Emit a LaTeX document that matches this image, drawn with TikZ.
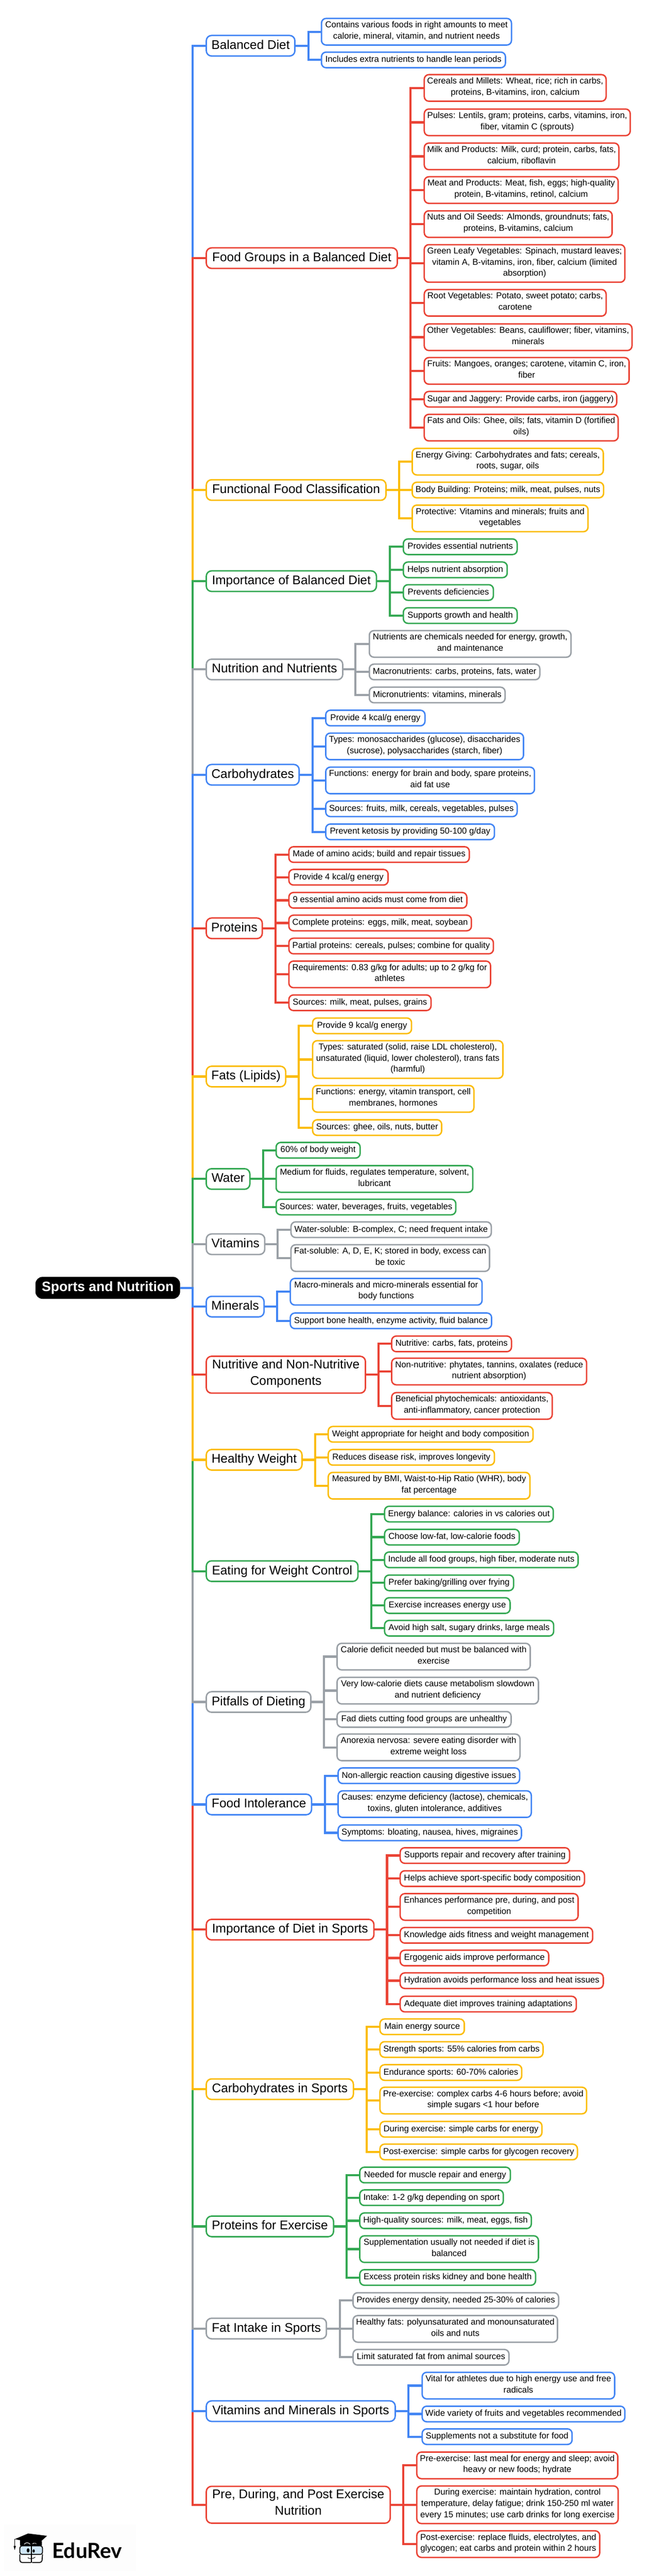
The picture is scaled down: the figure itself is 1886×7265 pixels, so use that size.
\documentclass[tikz,border=0pt]{standalone}
\usepackage{fontspec}
\setmainfont{Liberation Sans}
\newfontfamily\logofont{Lato}
\usetikzlibrary{positioning}

\definecolor{mapblue}{HTML}{4285F4}
\definecolor{mapred}{HTML}{EA4335}
\definecolor{mapyellow}{HTML}{FBBC04}
\definecolor{mapgreen}{HTML}{34A853}
\definecolor{mapgray}{HTML}{9AA0A6}
\definecolor{logoface}{HTML}{CFE6F6}
\definecolor{logoback}{HTML}{FDFDFD}

\tikzset{
  rootbox/.style={fill=black,text=white,rounded corners=20pt,anchor=west,inner sep=0pt,outer sep=0pt,
    minimum width=408,minimum height=62,font=\fontsize{38.5}{47}\selectfont\bfseries,
    execute at begin node=\strut,execute at end node=\strut},
  branch/.style={draw=#1,fill=white,line width=4pt,rounded corners=15pt,anchor=west,inner sep=0pt,outer sep=0pt,
    align=center,font=\fontsize{35.5}{47}\selectfont,
    execute at begin node=\strut,execute at end node=\strut},
  leaf/.style={draw=#1,fill=white,line width=4pt,rounded corners=13pt,anchor=west,inner sep=0pt,outer sep=0pt,
    align=center,font=\fontsize{24.3}{31.5}\selectfont,
    execute at begin node=\strut,execute at end node=\strut},
  conn/.style={draw=#1,line width=6pt}
}

\begin{document}
\begin{tikzpicture}[x=1pt,y=-1pt]
  \useasboundingbox (0,0) rectangle (1886,7265);

  % the root
  \node[rootbox] (root) at (100,3632) {Sports and Nutrition};

  % the branches, all start at the same x
  \foreach \nm/\y/\w/\h/\col/\txt in {
    bal/129/250/58/mapblue/{Balanced Diet},
    food/728/539/58/mapred/{Food Groups in a Balanced Diet},
    func/1382/507/58/mapyellow/{Functional Food Classification},
    imp/1639/480/58/mapgreen/{Importance of Balanced Diet},
    nut/1888/385/58/mapgray/{Nutrition and Nutrients},
    carb/2185/262/58/mapblue/{Carbohydrates},
    prot/2618/158/58/mapred/{Proteins},
    fats/3036/224/58/mapyellow/{Fats (Lipids)},
    water/3325/123/58/mapgreen/{Water},
    vit/3509/165/58/mapgray/{Vitamins},
    mins/3685/163/58/mapblue/{Minerals},
    comp/3877/449/104/mapred/{Nutritive and Non-Nutritive\\Components},
    hw/4117/270/58/mapyellow/{Healthy Weight},
    eat/4431/428/58/mapgreen/{Eating for Weight Control},
    pit/4800/295/58/mapgray/{Pitfalls of Dieting},
    intol/5089/297/58/mapblue/{Food Intolerance},
    ids/5442/473/58/mapred/{Importance of Diet in Sports},
    csp/5892/415/58/mapyellow/{Carbohydrates in Sports},
    pex/6279/359/58/mapgreen/{Proteins for Exercise},
    fat/6567/339/58/mapgray/{Fat Intake in Sports},
    vmin/6800/533/58/mapblue/{Vitamins and Minerals in Sports},
    pre/7064/519/104/mapred/{Pre, During, and Post Exercise\\Nutrition}}
    \node[branch=\col,minimum width=\w,minimum height=\h] (\nm) at (582,\y) {\txt};

  % the spine, outer branches first so that the nearer ones lie on top
  \foreach \nm/\col in {bal/mapblue,food/mapred,func/mapyellow,imp/mapgreen,nut/mapgray,
    carb/mapblue,prot/mapred,fats/mapyellow,water/mapgreen,vit/mapgray,
    pre/mapred,vmin/mapblue,fat/mapgray,pex/mapgreen,csp/mapyellow,ids/mapred,
    intol/mapblue,pit/mapgray,eat/mapgreen,hw/mapyellow,comp/mapred,mins/mapblue}
    \draw[conn=\col] (root.east) -- ++(35,0) |- (\nm.west);

  % Balanced Diet
  \foreach \nm/\y/\w/\h/\txt in {
    bal1/89.5/536/75/{Contains various foods in right amounts to meet\\calorie, mineral, vitamin, and nutrient needs},
    bal2/169/519/44/{Includes extra nutrients to handle lean periods}} {
    \node[leaf=mapblue,minimum width=\w,minimum height=\h] (\nm) at (907,\y) {\txt};
    \draw[conn=mapblue] (bal.east) -- ++(38,0) |- (\nm.west);
  }

  % Food Groups in a Balanced Diet
  \foreach \nm/\y/\w/\h/\txt in {
    food1/248/513/75/{Cereals and Millets: Wheat, rice; rich in carbs,\\proteins, B-vitamins, iron, calcium},
    food2/345/581/75/{Pulses: Lentils, gram; proteins, carbs, vitamins, iron,\\fiber, vitamin C (sprouts)},
    food3/441/549/75/{Milk and Products: Milk, curd; protein, carbs, fats,\\calcium, riboflavin},
    food4/536/547/75/{Meat and Products: Meat, fish, eggs; high-quality\\protein, B-vitamins, retinol, calcium},
    food5/632/530/75/{Nuts and Oil Seeds: Almonds, groundnuts; fats,\\proteins, B-vitamins, calcium},
    food6/743/566/106/{Green Leafy Vegetables: Spinach, mustard leaves;\\vitamin A, B-vitamins, iron, fiber, calcium (limited\\absorption)},
    food7/854/513/75/{Root Vegetables: Potato, sweet potato; carbs,\\carotene},
    food8/951/586/75/{Other Vegetables: Beans, cauliflower; fiber, vitamins,\\minerals},
    food9/1046/578/75/{Fruits: Mangoes, oranges; carotene, vitamin C, iron,\\fiber},
    food10/1126/543/44/{Sugar and Jaggery: Provide carbs, iron (jaggery)},
    food11/1206/547/75/{Fats and Oils: Ghee, oils; fats, vitamin D (fortified\\oils)}} {
    \node[leaf=mapred,minimum width=\w,minimum height=\h] (\nm) at (1197,\y) {\txt};
    \draw[conn=mapred] (food.east) -- ++(37,0) |- (\nm.west);
  }

  % Functional Food Classification
  \foreach \nm/\y/\w/\h/\txt in {
    func1/1302/539/75/{Energy Giving: Carbohydrates and fats; cereals,\\roots, sugar, oils},
    func2/1382/540/44/{Body Building: Proteins; milk, meat, pulses, nuts},
    func3/1462/496/75/{Protective: Vitamins and minerals; fruits and\\vegetables}} {
    \node[leaf=mapyellow,minimum width=\w,minimum height=\h] (\nm) at (1163,\y) {\txt};
    \draw[conn=mapyellow] (func.east) -- ++(37,0) |- (\nm.west);
  }

  % Importance of Balanced Diet
  \foreach \nm/\y/\w/\h/\txt in {
    imp1/1542/321/44/{Provides essential nutrients},
    imp2/1607/293/44/{Helps nutrient absorption},
    imp3/1671/254/44/{Prevents deficiencies},
    imp4/1736/321/44/{Supports growth and health}} {
    \node[leaf=mapgreen,minimum width=\w,minimum height=\h] (\nm) at (1138,\y) {\txt};
    \draw[conn=mapgreen] (imp.east) -- ++(38,0) |- (\nm.west);
  }

  % Nutrition and Nutrients
  \foreach \nm/\y/\w/\h/\txt in {
    nut1/1816/569/75/{Nutrients are chemicals needed for energy, growth,\\and maintenance},
    nut2/1895/481/44/{Macronutrients: carbs, proteins, fats, water},
    nut3/1960/383/44/{Micronutrients: vitamins, minerals}} {
    \node[leaf=mapgray,minimum width=\w,minimum height=\h] (\nm) at (1042,\y) {\txt};
    \draw[conn=mapgray] (nut.east) -- ++(36,0) |- (\nm.west);
  }

  % Carbohydrates
  \foreach \nm/\y/\w/\h/\txt in {
    carb1/2025/280/44/{Provide 4 kcal/g energy},
    carb2/2105/558/75/{Types: monosaccharides (glucose), disaccharides\\(sucrose), polysaccharides (starch, fiber)},
    carb3/2201/589/75/{Functions: energy for brain and body, spare proteins,\\aid fat use},
    carb4/2281/540/44/{Sources: fruits, milk, cereals, vegetables, pulses},
    carb5/2346/476/44/{Prevent ketosis by providing 50-100 g/day}} {
    \node[leaf=mapblue,minimum width=\w,minimum height=\h] (\nm) at (919,\y) {\txt};
    \draw[conn=mapblue] (carb.east) -- ++(38,0) |- (\nm.west);
  }

  % Proteins
  \foreach \nm/\y/\w/\h/\txt in {
    prot1/2410/509/44/{Made of amino acids; build and repair tissues},
    prot2/2474/280/44/{Provide 4 kcal/g energy},
    prot3/2539/502/44/{9 essential amino acids must come from diet},
    prot4/2603/515/44/{Complete proteins: eggs, milk, meat, soybean},
    prot5/2668/577/44/{Partial proteins: cereals, pulses; combine for quality},
    prot6/2748/569/75/{Requirements: 0.83 g/kg for adults; up to 2 g/kg for\\athletes},
    prot7/2828/401/44/{Sources: milk, meat, pulses, grains}} {
    \node[leaf=mapred,minimum width=\w,minimum height=\h] (\nm) at (815,\y) {\txt};
    \draw[conn=mapred] (prot.east) -- ++(37,0) |- (\nm.west);
  }

  % Fats (Lipids)
  \foreach \nm/\y/\w/\h/\txt in {
    fats1/2893/279/44/{Provide 9 kcal/g energy},
    fats2/2988/537/106/{Types: saturated (solid, raise LDL cholesterol),\\unsaturated (liquid, lower cholesterol), trans fats\\(harmful)},
    fats3/3099/455/75/{Functions: energy, vitamin transport, cell\\membranes, hormones},
    fats4/3180/364/44/{Sources: ghee, oils, nuts, butter}} {
    \node[leaf=mapyellow,minimum width=\w,minimum height=\h] (\nm) at (882,\y) {\txt};
    \draw[conn=mapyellow] (fats.east) -- ++(37,0) |- (\nm.west);
  }

  % Water
  \foreach \nm/\y/\w/\h/\txt in {
    water1/3244/237/44/{60\% of body weight},
    water2/3325/555/75/{Medium for fluids, regulates temperature, solvent,\\lubricant},
    water3/3404/507/44/{Sources: water, beverages, fruits, vegetables}} {
    \node[leaf=mapgreen,minimum width=\w,minimum height=\h] (\nm) at (779,\y) {\txt};
    \draw[conn=mapgreen] (water.east) -- ++(37,0) |- (\nm.west);
  }

  % Vitamins
  \foreach \nm/\y/\w/\h/\txt in {
    vit1/3468/565/44/{Water-soluble: B-complex, C; need frequent intake},
    vit2/3548/560/75/{Fat-soluble: A, D, E, K; stored in body, excess can\\be toxic}} {
    \node[leaf=mapgray,minimum width=\w,minimum height=\h] (\nm) at (821,\y) {\txt};
    \draw[conn=mapgray] (vit.east) -- ++(36,0) |- (\nm.west);
  }

  % Minerals
  \foreach \nm/\y/\w/\h/\txt in {
    mins1/3643/541/75/{Macro-minerals and micro-minerals essential for\\body functions},
    mins2/3725/568/44/{Support bone health, enzyme activity, fluid balance}} {
    \node[leaf=mapblue,minimum width=\w,minimum height=\h] (\nm) at (819,\y) {\txt};
    \draw[conn=mapblue] (mins.east) -- ++(37,0) |- (\nm.west);
  }

  % Nutritive and Non-Nutritive Components
  \foreach \nm/\y/\w/\h/\txt in {
    comp1/3790/338/44/{Nutritive: carbs, fats, proteins},
    comp2/3868/550/75/{Non-nutritive: phytates, tannins, oxalates (reduce\\nutrient absorption)},
    comp3/3965/453/75/{Beneficial phytochemicals: antioxidants,\\anti-inflammatory, cancer protection}} {
    \node[leaf=mapred,minimum width=\w,minimum height=\h] (\nm) at (1105,\y) {\txt};
    \draw[conn=mapred] (comp.east) -- ++(37,0) |- (\nm.west);
  }

  % Healthy Weight
  \foreach \nm/\y/\w/\h/\txt in {
    hw1/4045/578/44/{Weight appropriate for height and body composition},
    hw2/4110/469/44/{Reduces disease risk, improves longevity},
    hw3/4190/569/75/{Measured by BMI, Waist-to-Hip Ratio (WHR), body\\fat percentage}} {
    \node[leaf=mapyellow,minimum width=\w,minimum height=\h] (\nm) at (926,\y) {\txt};
    \draw[conn=mapyellow] (hw.east) -- ++(37,0) |- (\nm.west);
  }

  % Eating for Weight Control
  \foreach \nm/\y/\w/\h/\txt in {
    eat1/4270/476/44/{Energy balance: calories in vs calories out},
    eat2/4335/380/44/{Choose low-fat, low-calorie foods},
    eat3/4399/546/44/{Include all food groups, high fiber, moderate nuts},
    eat4/4464/364/44/{Prefer baking/grilling over frying},
    eat5/4528/354/44/{Exercise increases energy use},
    eat6/4592/477/44/{Avoid high salt, sugary drinks, large meals}} {
    \node[leaf=mapgreen,minimum width=\w,minimum height=\h] (\nm) at (1085,\y) {\txt};
    \draw[conn=mapgreen] (eat.east) -- ++(37,0) |- (\nm.west);
  }

  % Pitfalls of Dieting
  \foreach \nm/\y/\w/\h/\txt in {
    pit1/4672/545/75/{Calorie deficit needed but must be balanced with\\exercise},
    pit2/4768/568/75/{Very low-calorie diets cause metabolism slowdown\\and nutrient deficiency},
    pit3/4849/491/44/{Fad diets cutting food groups are unhealthy},
    pit4/4928/516/75/{Anorexia nervosa: severe eating disorder with\\extreme weight loss}} {
    \node[leaf=mapgray,minimum width=\w,minimum height=\h] (\nm) at (951,\y) {\txt};
    \draw[conn=mapgray] (pit.east) -- ++(37,0) |- (\nm.west);
  }

  % Food Intolerance
  \foreach \nm/\y/\w/\h/\txt in {
    intol1/5008/512/44/{Non-allergic reaction causing digestive issues},
    intol2/5088/545/75/{Causes: enzyme deficiency (lactose), chemicals,\\toxins, gluten intolerance, additives},
    intol3/5169/517/44/{Symptoms: bloating, nausea, hives, migraines}} {
    \node[leaf=mapblue,minimum width=\w,minimum height=\h] (\nm) at (954,\y) {\txt};
    \draw[conn=mapblue] (intol.east) -- ++(38,0) |- (\nm.west);
  }

  % Importance of Diet in Sports
  \foreach \nm/\y/\w/\h/\txt in {
    ids1/5233/478/44/{Supports repair and recovery after training},
    ids2/5298/520/44/{Helps achieve sport-specific body composition},
    ids3/5378/502/75/{Enhances performance pre, during, and post\\competition},
    ids4/5458/543/44/{Knowledge aids fitness and weight management},
    ids5/5522/419/44/{Ergogenic aids improve performance},
    ids6/5586/573/44/{Hydration avoids performance loss and heat issues},
    ids7/5652/497/44/{Adequate diet improves training adaptations}} {
    \node[leaf=mapred,minimum width=\w,minimum height=\h] (\nm) at (1129,\y) {\txt};
    \draw[conn=mapred] (ids.east) -- ++(37,0) |- (\nm.west);
  }

  % Carbohydrates in Sports
  \foreach \nm/\y/\w/\h/\txt in {
    csp1/5716/238/44/{Main energy source},
    csp2/5780/460/44/{Strength sports: 55\% calories from carbs},
    csp3/5845/400/44/{Endurance sports: 60-70\% calories},
    csp4/5924/583/75/{Pre-exercise: complex carbs 4-6 hours before; avoid\\simple sugars <1 hour before},
    csp5/6005/457/44/{During exercise: simple carbs for energy},
    csp6/6069/557/44/{Post-exercise: simple carbs for glycogen recovery}} {
    \node[leaf=mapyellow,minimum width=\w,minimum height=\h] (\nm) at (1072,\y) {\txt};
    \draw[conn=mapyellow] (csp.east) -- ++(37,0) |- (\nm.west);
  }

  % Proteins for Exercise
  \foreach \nm/\y/\w/\h/\txt in {
    pex1/6134/425/44/{Needed for muscle repair and energy},
    pex2/6198/405/44/{Intake: 1-2 g/kg depending on sport},
    pex3/6263/484/44/{High-quality sources: milk, meat, eggs, fish},
    pex4/6343/504/75/{Supplementation usually not needed if diet is\\balanced},
    pex5/6423/496/44/{Excess protein risks kidney and bone health}} {
    \node[leaf=mapgreen,minimum width=\w,minimum height=\h] (\nm) at (1015,\y) {\txt};
    \draw[conn=mapgreen] (pex.east) -- ++(37,0) |- (\nm.west);
  }

  % Fat Intake in Sports
  \foreach \nm/\y/\w/\h/\txt in {
    fat1/6488/580/44/{Provides energy density, needed 25-30\% of calories},
    fat2/6568/577/75/{Healthy fats: polyunsaturated and monounsaturated\\oils and nuts},
    fat3/6648/440/44/{Limit saturated fat from animal sources}} {
    \node[leaf=mapgray,minimum width=\w,minimum height=\h] (\nm) at (996,\y) {\txt};
    \draw[conn=mapgray] (fat.east) -- ++(38,0) |- (\nm.west);
  }

  % Vitamins and Minerals in Sports
  \foreach \nm/\y/\w/\h/\txt in {
    vmin1/6728/543/75/{Vital for athletes due to high energy use and free\\radicals},
    vmin2/6808/572/44/{Wide variety of fruits and vegetables recommended},
    vmin3/6872/423/44/{Supplements not a substitute for food}} {
    \node[leaf=mapblue,minimum width=\w,minimum height=\h] (\nm) at (1191,\y) {\txt};
    \draw[conn=mapblue] (vmin.east) -- ++(37,0) |- (\nm.west);
  }

  % Pre, During, and Post Exercise Nutrition
  \foreach \nm/\y/\w/\h/\txt in {
    pre1/6953/567/75/{Pre-exercise: last meal for energy and sleep; avoid\\heavy or new foods; hydrate},
    pre2/7064/568/106/{During exercise: maintain hydration, control\\temperature, delay fatigue; drink 150-250 ml water\\every 15 minutes; use carb drinks for long exercise},
    pre3/7175/516/75/{Post-exercise: replace fluids, electrolytes, and\\glycogen; eat carbs and protein within 2 hours}} {
    \node[leaf=mapred,minimum width=\w,minimum height=\h] (\nm) at (1176,\y) {\txt};
    \draw[conn=mapred] (pre.east) -- ++(37,0) |- (\nm.west);
  }

  % the logo in the corner
  \begin{scope}[shift={(0,7100)},x=.3333pt,y=-.3333pt]
    \fill[logoback] (30,60) rectangle (1150,450);
    \fill (170,190) -- (170,238) -- (355,238) -- (355,200) -- cycle;
    \draw[white,line width=1.5pt] (205,226) .. controls (220,208) and (240,210) .. (255,226);
    \draw[white,line width=1.5pt] (275,222) .. controls (285,214) and (295,214) .. (308,222);
    \fill (125,183) -- (238,135) -- (398,155) -- (325,222) -- cycle;
    \draw[line width=1.5pt] (125,183) -- (125,240);
    \fill (115,240) -- (135,240) -- (124,275) -- cycle;
    \draw[fill=logoface,line width=2.5pt,rounded corners=6pt] (168,240) rectangle (360,312);
    \draw[line width=2.5pt,rounded corners=6pt] (262,380) -- (168,380) -- (168,312);
    \draw[line width=2.5pt,rounded corners=6pt] (272,380) -- (355,380) -- (360,312);
    \draw[line width=2.5pt] (265,240) -- (265,383);
    \fill (238,278) ellipse [x radius=12,y radius=18];
    \fill (285,283) ellipse [x radius=10,y radius=14];
    \draw[line width=1.5pt] (235,340) .. controls (250,352) and (280,352) .. (298,335);
  \end{scope}
  \node[anchor=base west,inner sep=0pt,font=\fontsize{59}{70}\logofont\bfseries] (logo) at (147,7215) {EduRev};
\end{tikzpicture}
\end{document}
